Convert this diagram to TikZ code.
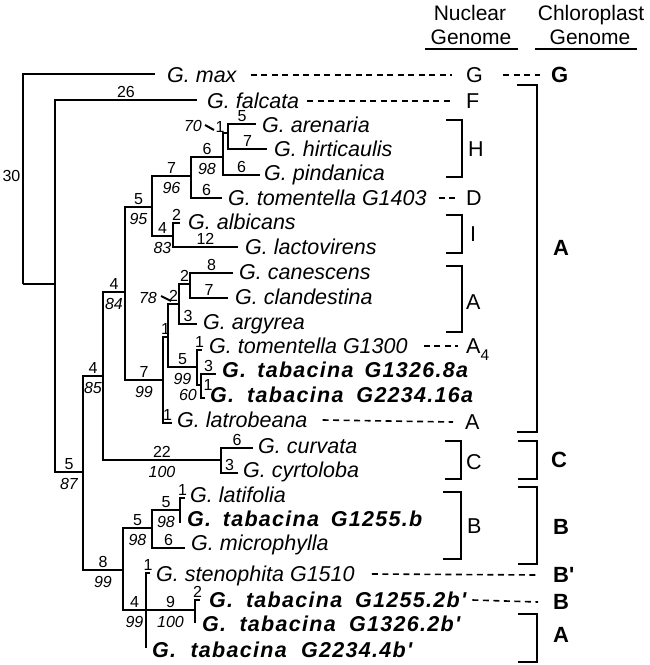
\documentclass[tikz,border=0pt]{standalone}
\usepackage{fontspec}
\setmainfont{Liberation Sans}
\newfontfamily\tabfam{Liberation Sans}[LetterSpace=6]
\newfontfamily\plainfam{Liberation Sans}
\newcommand\tabn[2]{\hbox to #1{G.\hfil tabacina\hfil #2}}
\begin{document}
\begin{tikzpicture}[x=1pt,y=-1pt,
 tree/.style={line width=2.3pt, line join=miter},
 brk/.style={line width=2.2pt},
 dsh/.style={line width=1.6pt, dash pattern=on 6pt off 4.5pt},
 sp/.style={font=\fontsize{21.5}{21.5}\selectfont\itshape, anchor=west, inner sep=0pt, text height=15pt, text depth=0pt},
 tb/.style={sp, font=\fontsize{21.5}{21.5}\selectfont\tabfam\bfseries\itshape},
 nl/.style={font=\fontsize{21.5}{21.5}\selectfont, anchor=west, inner sep=0pt, text height=15pt, text depth=0pt},
 cl/.style={nl, font=\fontsize{22}{22}\selectfont\plainfam\bfseries},
 hd/.style={font=\fontsize{21}{21}\selectfont, inner sep=0pt, text height=15pt, text depth=0pt},
 num/.style={font=\fontsize{16}{16}\selectfont, inner sep=1.5pt, text height=11.5pt, text depth=0pt},
 bt/.style={font=\fontsize{16}{16}\selectfont\itshape, inner sep=1.5pt, text height=11.5pt, text depth=0pt},
 la/.style={num, above, pos=0.75},
 lb/.style={bt, below=3pt, pos=0.75},
]
\useasboundingbox (0,0) rectangle (650,665);

% ---------- internal nodes ----------
\coordinate (r0) at (23,284);
\coordinate (N1) at (55,284);
\coordinate (N2) at (83,472);
\coordinate (N3) at (103,376);
\coordinate (N4) at (125,292);
\coordinate (N5) at (152,207);
\coordinate (N6) at (191,176);
\coordinate (N7) at (223,157);
\coordinate (N8) at (228,133);
\coordinate (NI) at (173,236);
\coordinate (NA) at (163,380);
\coordinate (NA1) at (168,337);
\coordinate (NA2) at (179,304);
\coordinate (NA4) at (190,284);
\coordinate (NA3) at (197,367);
\coordinate (NA5) at (201,385);
\coordinate (NC) at (221,460);
\coordinate (NB) at (123,570);
\coordinate (NB1) at (152,528);
\coordinate (NB3) at (180,510);
\coordinate (NB2) at (146,610);
\coordinate (NB4) at (195,610);

% ---------- tips ----------
\coordinate (t-max) at (155,74);
\coordinate (t-fal) at (197,100);
\coordinate (t-are) at (256,124);
\coordinate (t-hir) at (267,149);
\coordinate (t-pin) at (260,175);
\coordinate (t-t1403) at (222,198);
\coordinate (t-alb) at (180,223);
\coordinate (t-lac) at (238,247);
\coordinate (t-can) at (233,273);
\coordinate (t-cla) at (228,298);
\coordinate (t-arg) at (197,324);
\coordinate (t-t1300) at (202,350);
\coordinate (t-tab8a) at (216,374);
\coordinate (t-tab16a) at (205,398);
\coordinate (t-ltb) at (172,423);
\coordinate (t-cur) at (253,448);
\coordinate (t-cyr) at (238,473);
\coordinate (t-ltf) at (185,498);
\coordinate (t-tab55b) at (180,523);
\coordinate (t-mic) at (185,548);
\coordinate (t-ste) at (150,573);
\coordinate (t-tab2b55) at (200,600);
\coordinate (t-tab2b26) at (195,623);
\coordinate (t-tab4b) at (146,648);

% ---------- leaf labels ----------
\node[sp] (max) at (167,75) {G. max};
\node[sp] (fal) at (207,101) {G. falcata};
\node[sp] (are) at (262,125) {G. arenaria};
\node[sp] (hir) at (274,149) {G. hirticaulis};
\node[sp] (pin) at (264,173) {G. pindanica};
\node[sp] (t1403) at (228,198) {G. tomentella G1403};
\node[sp] (alb) at (188,222) {G. albicans};
\node[sp] (lac) at (245,247) {G. lactovirens};
\node[sp] (can) at (239,272) {G. canescens};
\node[sp] (cla) at (235,297) {G. clandestina};
\node[sp] (arg) at (203,322) {G. argyrea};
\node[sp] (t1300) at (209,346) {G. tomentella G1300};
\node[tb] (tab8a) at (222,370) {\tabn{246pt}{G1326.8a}};
\node[tb] (tab16a) at (210,395) {\tabn{263pt}{G2234.16a}};
\node[sp] (ltb) at (177,420) {G. latrobeana};
\node[sp] (cur) at (258,446) {G. curvata};
\node[sp] (cyr) at (243,470) {G. cyrtoloba};
\node[sp] (ltf) at (190,495) {G. latifolia};
\node[tb] (tab55b) at (187,519) {\tabn{235pt}{G1255.b}};
\node[sp] (mic) at (191,543) {G. microphylla};
\node[sp] (ste) at (156,574) {G. stenophita G1510};
\node[tb] (tab2b55) at (209,600) {\tabn{257pt}{G1255.2b'}};
\node[tb] (tab2b26) at (202,624) {\tabn{258pt}{G1326.2b'}};
\node[tb] (tab4b) at (152,650) {\tabn{260pt}{G2234.4b'}};

% ---------- tree ----------
\draw[tree] (r0) |- (t-max);
\draw[tree] (r0) -- (N1);
\draw[tree] (N1) |- node[la]{26} (t-fal);
\draw[tree] (N1) |- node[la]{5} node[lb]{87} (N2);
\draw[tree] (N2) |- node[la]{4} node[lb]{85} (N3);
\draw[tree] (N2) |- node[la]{8} node[lb]{99} (NB);
\draw[tree] (N3) |- node[la]{4} node[lb]{84} (N4);
\draw[tree] (N3) |- node[la]{22} node[lb]{100} (NC);
\draw[tree] (N4) |- node[la]{5} node[lb]{95} (N5);
\draw[tree] (N4) |- node[la]{7} node[lb]{99} (NA);
\draw[tree] (N5) |- node[la]{7} node[lb]{96} (N6);
\draw[tree] (N5) |- node[la]{4} node[lb]{83} (NI);
\draw[tree] (N6) |- node[la]{6} node[lb]{98} (N7);
\draw[tree] (N6) |- node[la]{6} (t-t1403);
\draw[tree] (N7) |- (N8);
\draw[tree] (N7) |- node[la]{6} (t-pin);
\draw[tree] (N8) |- node[la]{5} (t-are);
\draw[tree] (N8) |- node[la]{7} (t-hir);
\draw[tree] (NI) |- node[la]{2} (t-alb);
\draw[tree] (NI) |- node[la]{12} (t-lac);
\draw[tree] (NA) |- node[la]{1} (NA1);
\draw[tree] (NA) |- node[la]{1} (t-ltb);
\draw[tree] (NA1) |- node[la]{2} (NA2);
\draw[tree] (NA1) |- node[la]{5} node[lb]{99} (NA3);
\draw[tree] (NA2) |- node[la]{2} (NA4);
\draw[tree] (NA2) |- node[la]{3} (t-arg);
\draw[tree] (NA4) |- node[la]{8} (t-can);
\draw[tree] (NA4) |- node[la]{7} (t-cla);
\draw[tree] (NA3) |- node[la]{1} (t-t1300);
\draw[tree] (NA3) |- (NA5);
\draw[tree] (NA5) |- node[la]{3} (t-tab8a);
\draw[tree] (NA5) |- (t-tab16a);
\draw[tree] (NC) |- node[la]{6} (t-cur);
\draw[tree] (NC) |- node[la]{3} (t-cyr);
\draw[tree] (NB) |- node[la]{5} node[lb]{98} (NB1);
\draw[tree] (NB) |- node[la]{4} node[lb]{99} (NB2);
\draw[tree] (NB1) |- node[la]{5} node[lb]{98} (NB3);
\draw[tree] (NB1) |- node[la]{6} (t-mic);
\draw[tree] (NB3) |- node[la]{1} (t-ltf);
\draw[tree] (NB3) |- (t-tab55b);
\draw[tree] (NB2) |- node[la]{1} (t-ste);
\draw[tree] (NB2) -- node[num, above, midway]{9} node[bt, below=3pt, midway]{100} (NB4);
\draw[tree] (NB2) |- (t-tab4b);
\draw[tree] (NB4) |- node[la]{2} (t-tab2b55);
\draw[tree] (NB4) |- (t-tab2b26);

% ---------- special labels ----------
\node[num, anchor=east] (l30) at (22,176) {30};
\node[bt] (l70) at (193,126) {70};
\coordinate (k70a) at (205,125);
\coordinate (k70b) at (214,130);
\draw[line width=2pt] (k70a) -- (k70b);
\node[num] (l70one) at (220,127) {1};
\node[bt] (l78) at (148,298) {78};
\coordinate (k78a) at (161,296);
\coordinate (k78b) at (171,301);
\draw[line width=2pt] (k78a) -- (k78b);
\node[bt] (l60) at (188,395) {60};
\node[num] (l16a) at (208,385) {1};

% ---------- headers ----------
\node[hd] (hNuc) at (470,12.5) {Nuclear};
\node[hd] (hNucG) at (471,36.5) {Genome};
\node[hd] (hChl) at (591,12.5) {Chloroplast};
\node[hd] (hChlG) at (590,36.5) {Genome};
\draw[line width=1.5pt] (425,49) -- (518,49);
\draw[line width=1.5pt] (535,49) -- (637,49);

% ---------- nuclear genome ----------
\node[nl] (ngG) at (466,75) {G};
\node[nl] (ngF) at (466,101) {F};
\node[nl] (ngH) at (468,149) {H};
\node[nl] (ngD) at (466,198) {D};
\node[nl] (ngI) at (470,234) {I};
\node[nl] (ngA) at (466,302) {A};
\node[nl] (ngA4) at (466,346) {A\raisebox{-7pt}{\fontsize{15.5}{15.5}\selectfont 4}};
\node[nl] (ngAl) at (465,422) {A};
\node[nl] (ngC) at (466,462) {C};
\node[nl] (ngB) at (467,526) {B};

\draw[brk] (446,120) -| (462,177) -- (446,177);
\draw[brk] (446,215) -| (462,253) -- (446,253);
\draw[brk] (446,266) -| (462,332) -- (446,332);
\draw[brk] (445,441) -| (461,479) -- (445,479);
\draw[brk] (443,492) -| (461,559) -- (443,559);

% ---------- chloroplast genome ----------
\node[cl] (cgG) at (551,75) {G};
\node[cl] (cgA) at (553,248) {A};
\node[cl] (cgC) at (551,460) {C};
\node[cl] (cgB) at (553,527) {B};
\node[cl] (cgBp) at (553,575) {B'};
\node[cl] (cgB2) at (553,602) {B};
\node[cl] (cgA2) at (553,635) {A};

\draw[brk] (517,85) -| (537,432) -- (517,432);
\draw[brk] (518,441) -| (537,479) -- (518,479);
\draw[brk] (518,487) -| (537,564) -- (518,564);
\draw[brk] (518,614) -| (537,662) -- (518,662);

% ---------- dashed links ----------
\draw[dsh] ([xshift=14pt]max.east) -- ([xshift=-14pt]ngG.west);
\draw[dsh] ([xshift=20pt]ngG.east) -- ([xshift=-11pt]cgG.west);
\draw[dsh] ([xshift=8pt]fal.east) -- ([xshift=-14pt]ngF.west);
\draw[dsh] ([xshift=12pt]t1403.east) -- ([xshift=-8pt]ngD.west);
\draw[dsh] ([xshift=16pt]t1300.east) -- ([xshift=-8pt]ngA4.west);
\draw[dsh] ([xshift=15pt]ltb.east) -- ([xshift=-12pt]ngAl.west);
\draw[dsh] ([xshift=17pt]ste.east) -- ([xshift=-15pt]cgBp.west);
\draw[dsh] ([xshift=6pt]tab2b55.east) -- ([xshift=-15pt]cgB2.west);
\end{tikzpicture}
\end{document}
